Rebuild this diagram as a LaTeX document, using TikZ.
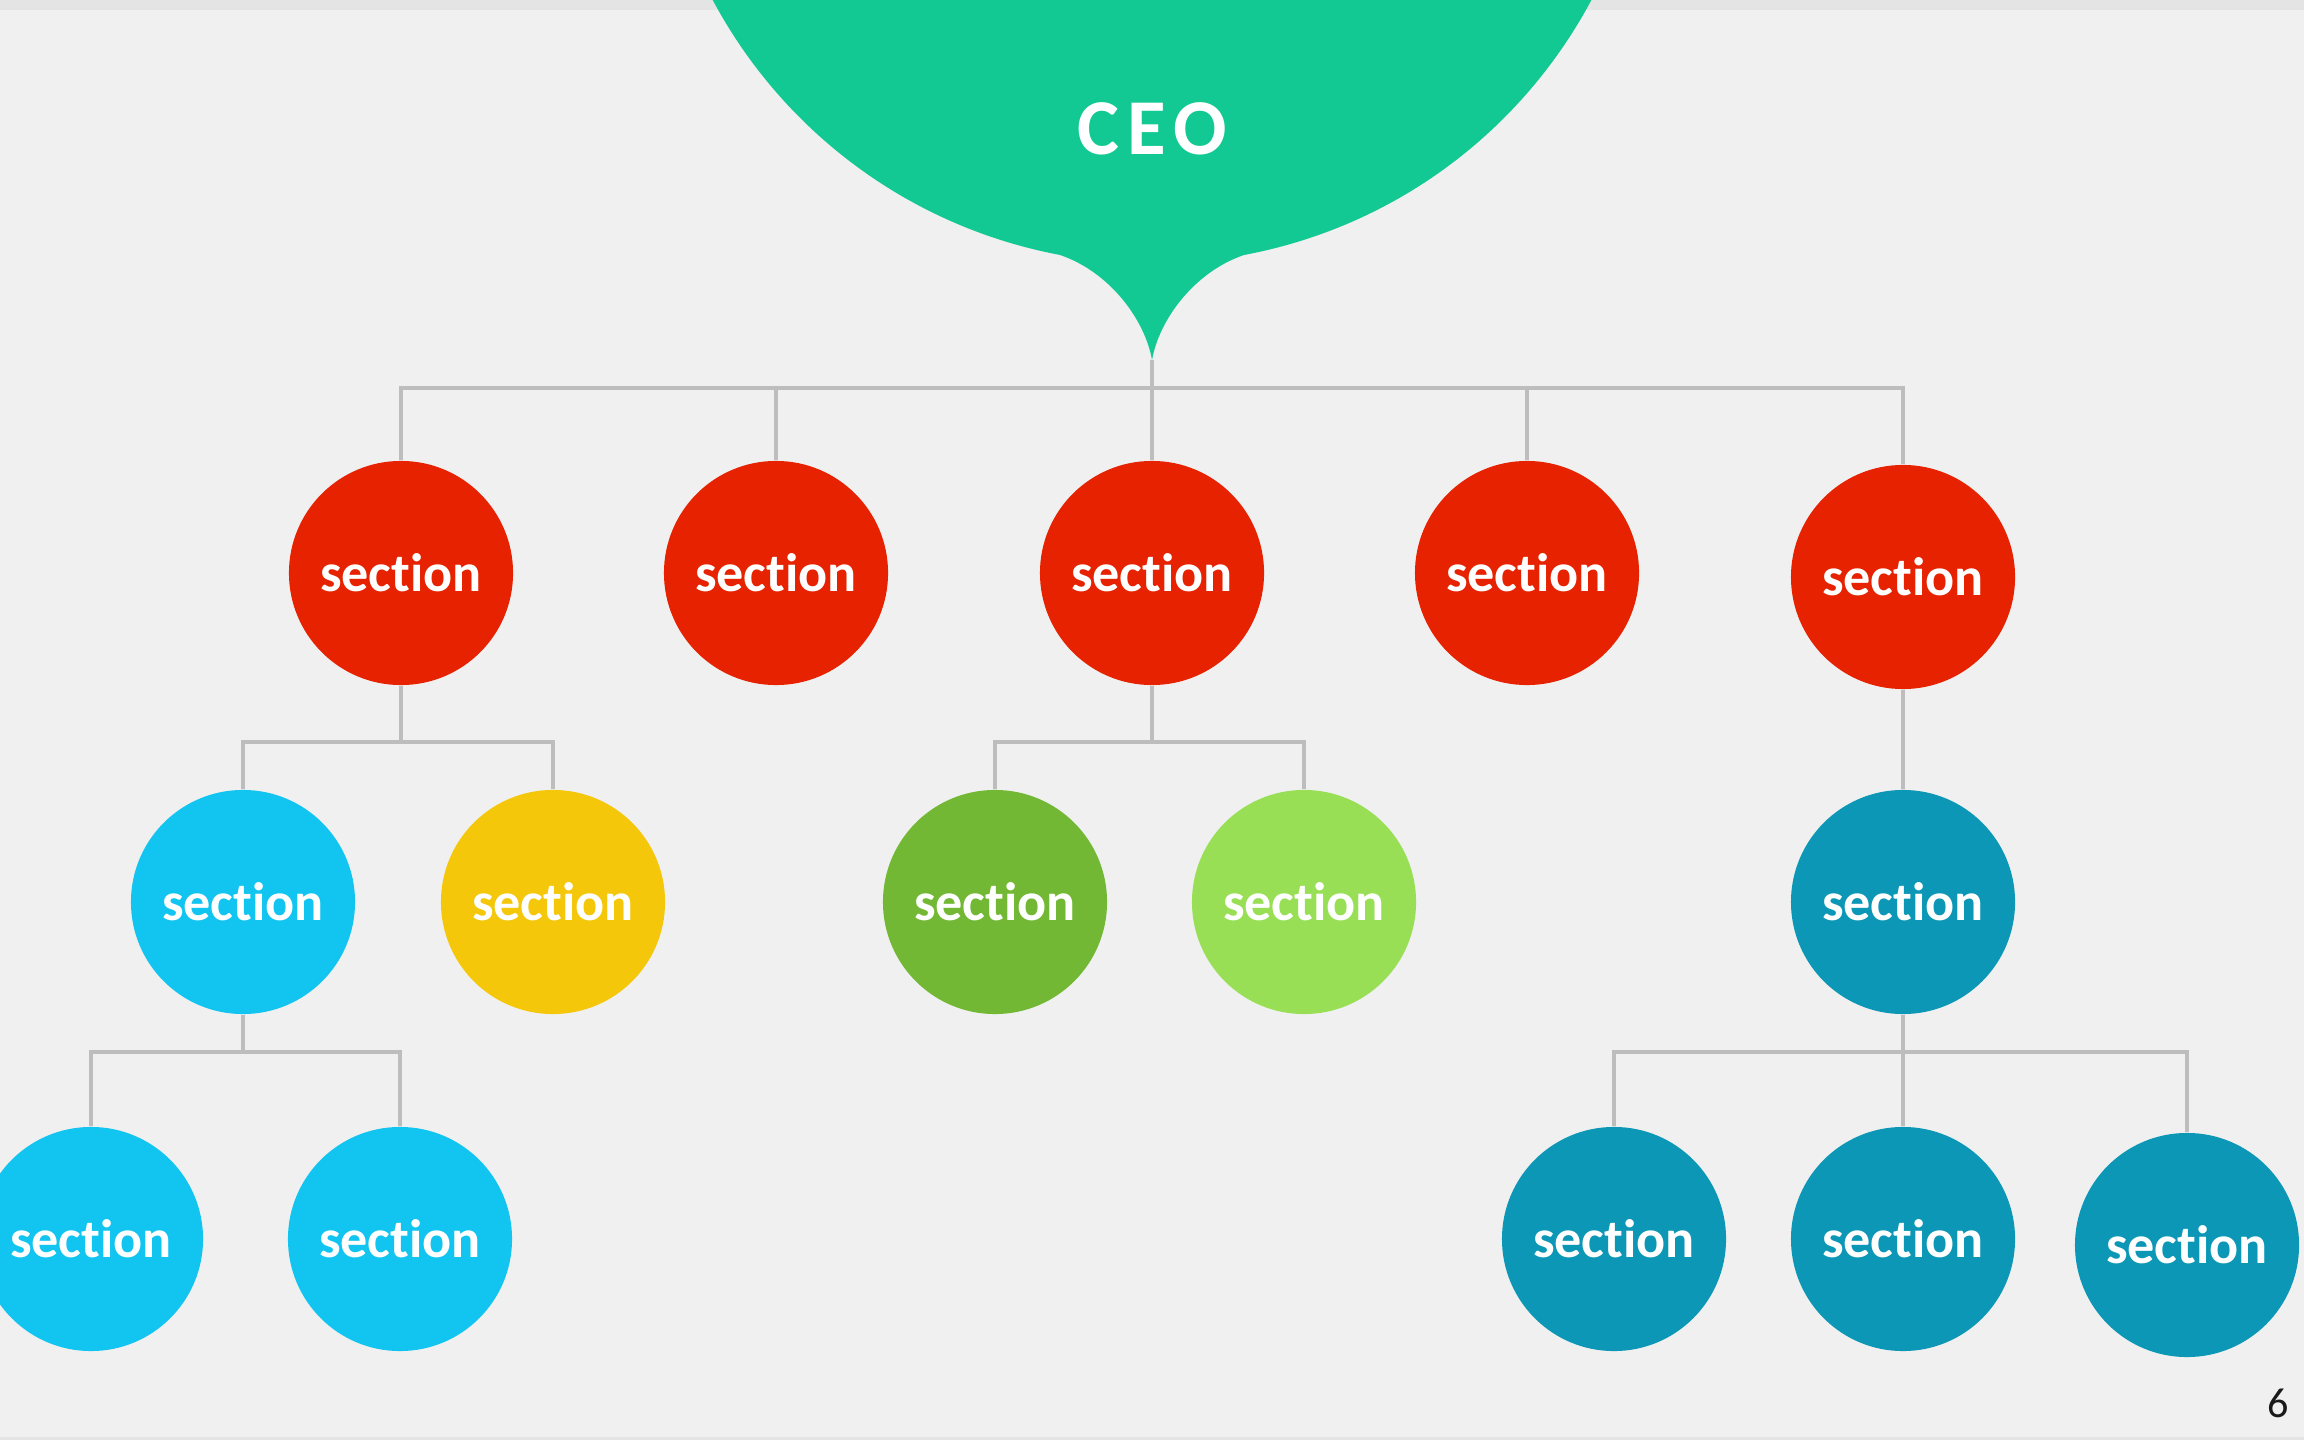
\documentclass[tikz,border=0pt]{standalone}
\usepackage{fontspec}
\setmainfont{Carlito}[Ligatures={NoCommon,NoRare}]
\newfontfamily\ceofont{Carlito}[LetterSpace=11,Ligatures={NoCommon,NoRare}]

\definecolor{bggray}{HTML}{F0F0F0}
\definecolor{stripgray}{HTML}{E4E4E5}
\definecolor{linegray}{HTML}{BDBDBD}
\definecolor{ceogreen}{HTML}{13C993}
\definecolor{secred}{HTML}{E62200}
\definecolor{secblue}{HTML}{12C5F0}
\definecolor{secyellow}{HTML}{F4C70A}
\definecolor{secgreen}{HTML}{72B835}
\definecolor{seclime}{HTML}{98DF55}
\definecolor{secteal}{HTML}{0B97B5}
\definecolor{pagetext}{HTML}{1A1A1A}

\begin{document}
\begin{tikzpicture}[x=0.01cm, y=0.01cm,
		sec/.style={circle, minimum size=2.24cm, inner sep=0pt, text=white, font=\fontsize{15.4}{18}\selectfont\bfseries},
		conn/.style={draw=linegray, line width=1.1pt}]
		\fill[bggray] (0,0) rectangle (2304,-1440);
		\fill[stripgray] (0,0) rectangle (2304,-10);
		\fill[stripgray] (0,-1437) rectangle (2304,-1440);
		\useasboundingbox (0,0) rectangle (2304,-1440);

		\begin{scope}
			\clip (0,0) rectangle (2304,-1440);
			\fill[ceogreen] (1060,-255) .. controls (1110,-272) and (1145,-320) .. (1152,-360)
				.. controls (1159,-320) and (1194,-272) .. (1244,-255)
				arc[start angle=280.64, end angle=619.36, radius=498] -- cycle;
		\end{scope}
		\node[text=white, font=\fontsize{22.5}{27}\selectfont\bfseries\ceofont] (ceo) at (1152,-129) {CEO};
		\coordinate (tip) at (1152,-360);

		\foreach \n/\x/\y/\c in {r1/401/-573/secred, r2/776/-573/secred, r3/1152/-573/secred, r4/1527/-573/secred, r5/1903/-577/secred,
				b1/243/-902/secblue, y1/553/-902/secyellow, g1/995/-902/secgreen, g2/1304/-902/seclime, t1/1903/-902/secteal,
				c1/91/-1239/secblue, c2/400/-1239/secblue, t2/1614/-1239/secteal, t3/1903/-1239/secteal, t4/2187/-1245/secteal} {
			\node[sec, fill=\c] (\n) at (\x,\y) {section};
		}

		\coordinate (bus) at (1152,-388);
		\draw[conn] (tip) -- (r3);
		\draw[conn] (r1) |- (bus) -| (r5);
		\draw[conn] (r2) -- (r2 |- bus);
		\draw[conn] (r4) -- (r4 |- bus);

		\coordinate (busA) at (401,-742);
		\draw[conn] (r1) -- (busA);
		\draw[conn] (b1) |- (busA) -| (y1);

		\coordinate (busB) at (1152,-742);
		\draw[conn] (r3) -- (busB);
		\draw[conn] (g1) |- (busB) -| (g2);

		\draw[conn] (r5) -- (t1);

		\coordinate (busC) at (243,-1052);
		\draw[conn] (b1) -- (busC);
		\draw[conn] (c1) |- (busC) -| (c2);

		\coordinate (busD) at (1903,-1052);
		\draw[conn] (t1) -- (busD);
		\draw[conn] (t2) |- (busD) -| (t4);
		\draw[conn] (t3) -- (t3 |- busD);

		\node[text=pagetext, font=\fontsize{12}{14}\selectfont] (pagenum) at (2278,-1403) {6};
	\end{tikzpicture}
\end{document}
